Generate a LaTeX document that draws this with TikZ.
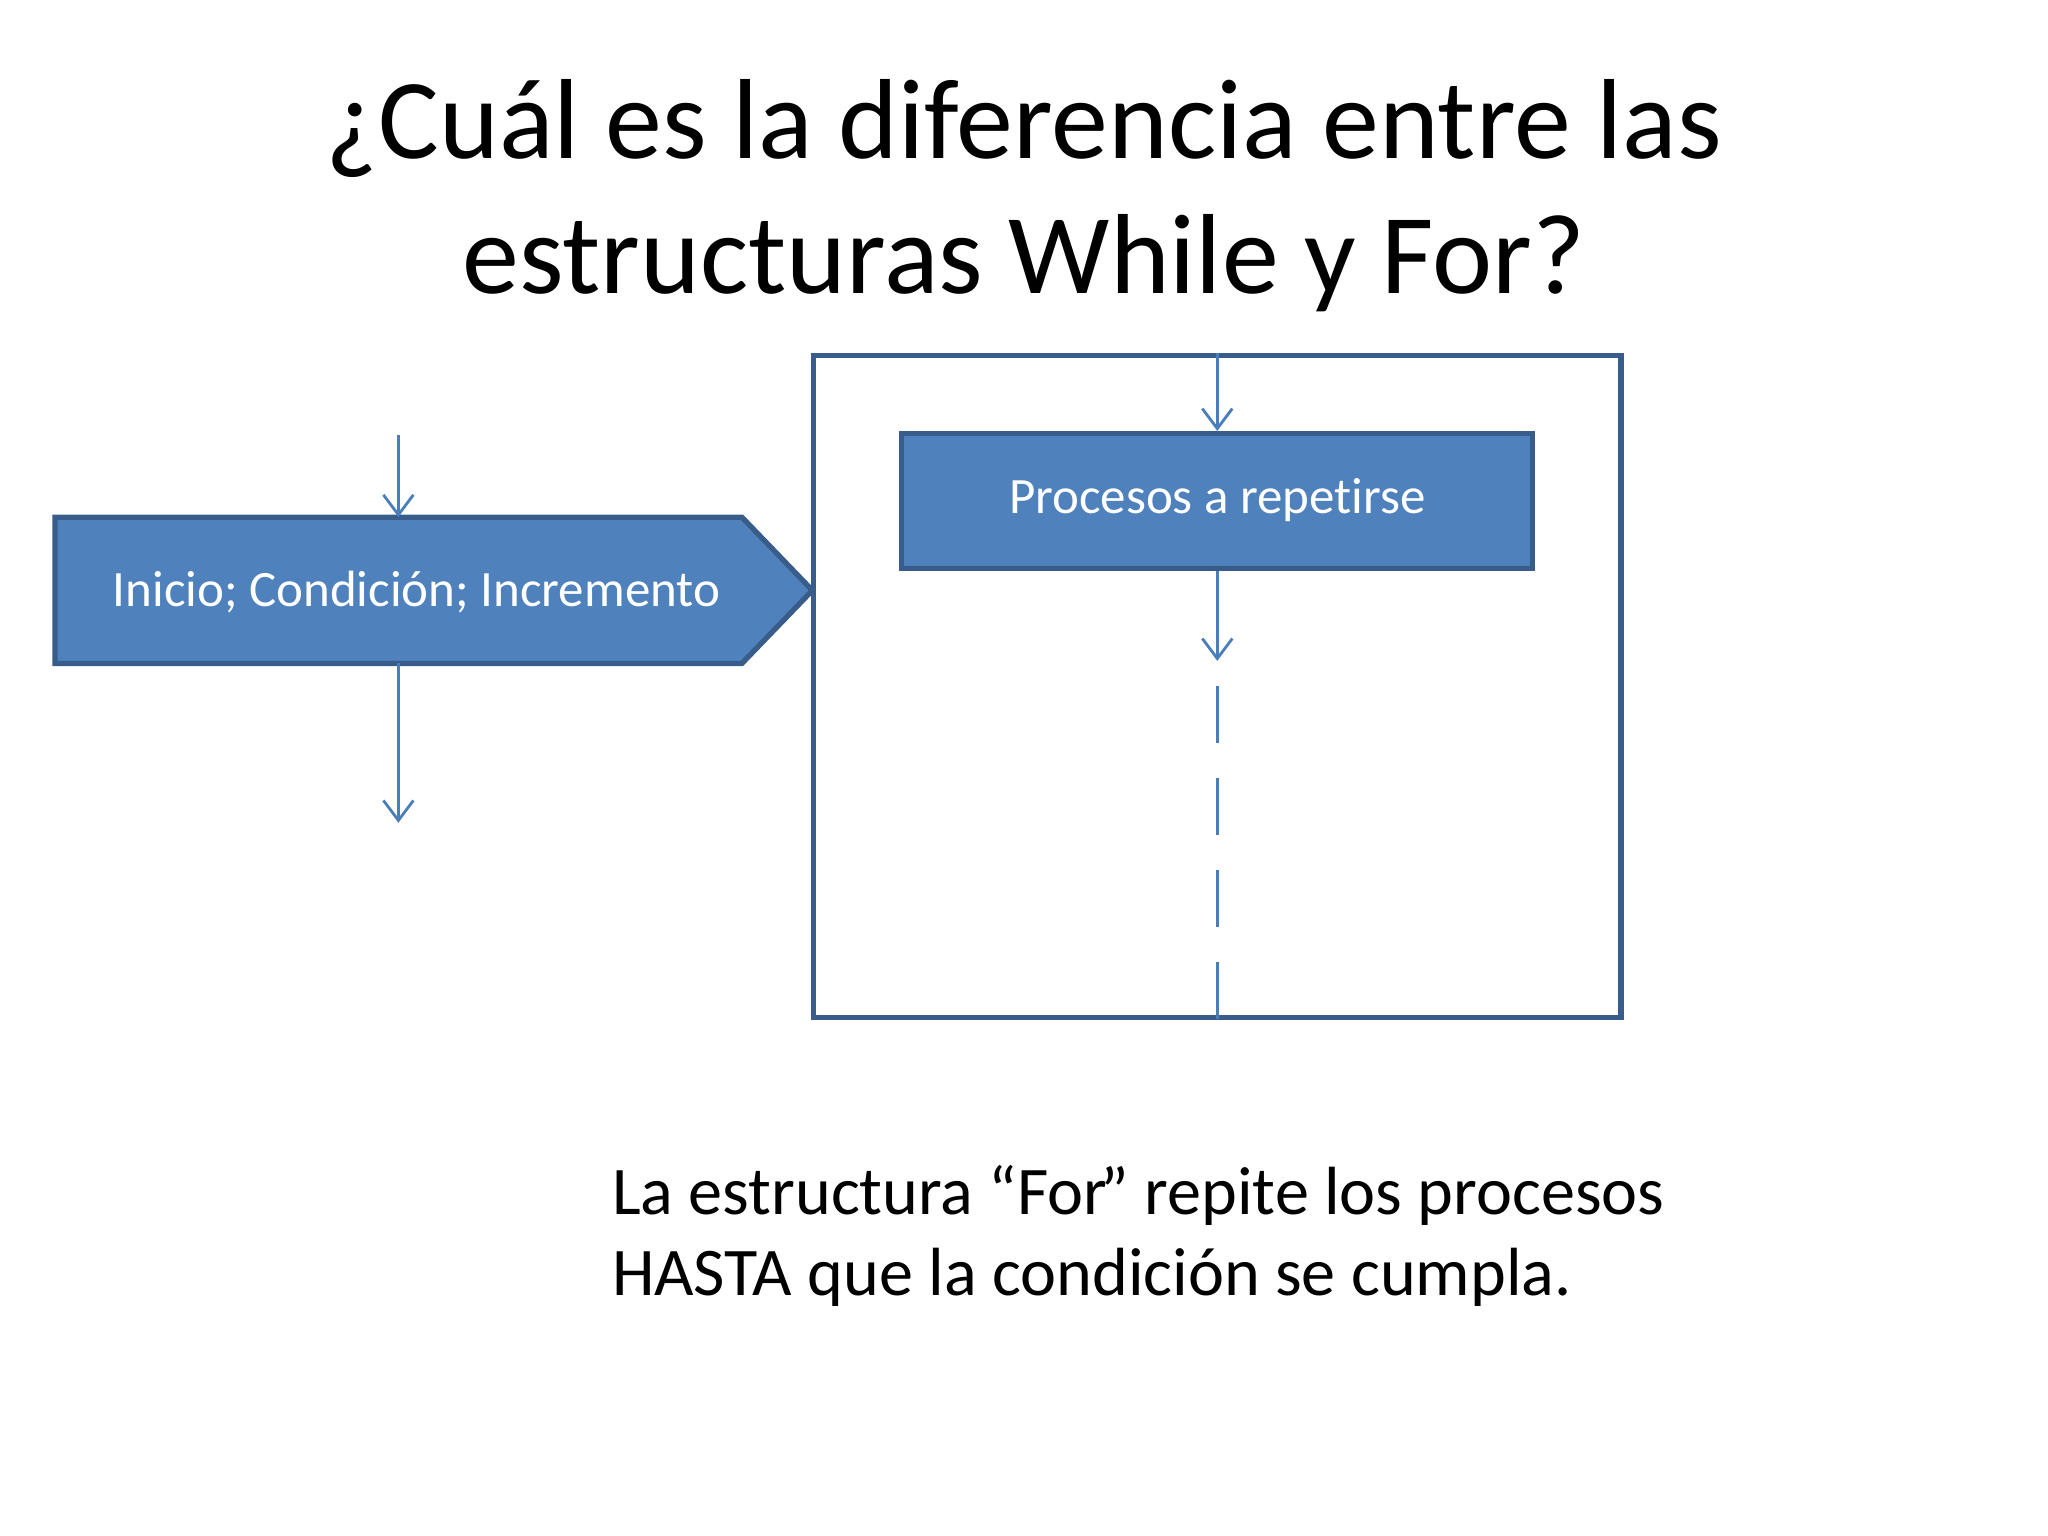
\documentclass[tikz,border=0pt]{standalone}
\usepackage{fontspec}
\setmainfont{Carlito}[Ligatures=NoCommon]
\usepackage{tikz}
\usetikzlibrary{calc,arrows.meta}

\definecolor{azul}{HTML}{4F81BD}
\definecolor{borde}{HTML}{385D8A}
\definecolor{linea}{HTML}{4A7EBB}

\tikzset{
  flecha/.style={draw=linea, line width=0.8pt, -{Straight Barb[length=2mm,width=3mm]}},
  caja/.style={draw=borde, line width=1.5pt, fill=azul},
  textocaja/.style={text=white, font=\fontsize{14.5}{17}\selectfont},
}

\begin{document}
\begin{tikzpicture}
\useasboundingbox (0,0) rectangle (20.48,15.36);

% titulo
\node[anchor=base, font=\fontsize{32.4}{36}\selectfont] (tit1) at (10.24,13.77) {¿Cuál es la diferencia entre las};
\node[anchor=base, font=\fontsize{32.4}{36}\selectfont] (tit2) at (10.24,12.42) {estructuras While y For?};

% pentagono
\coordinate (P1) at (0.549,8.725);
\coordinate (P2) at (0.549,10.188);
\coordinate (P3) at (7.419,10.188);
\coordinate (P4) at (8.124,9.456);
\coordinate (P5) at (7.419,8.725);
\draw[caja, line join=miter] (P1) -- (P2) -- (P3) -- (P4) -- (P5) -- cycle;
\node[textocaja] (cond) at (4.166,9.443) {Inicio; Condición; Incremento};

\coordinate (E1) at (3.984,11.011);
\coordinate (E2) at (3.984,10.188);
\coordinate (S1) at (3.984,8.725);
\coordinate (S2) at (3.984,7.132);
\draw[flecha] (E1) -- (E2);
\draw[flecha] (S1) -- (S2);

% bucle
\node[draw=borde, line width=1.5pt, minimum width=8.072cm, minimum height=6.621cm, inner sep=0pt] (bucle) at (12.173,8.4965) {};
\node[caja, textocaja, minimum width=6.309cm, minimum height=1.346cm, inner sep=0pt, text depth=0.6ex] (proc) at (12.173,10.351) {Procesos a repetirse};

\coordinate (F1) at (12.173,8.751);
\coordinate (D1) at (12.173,8.496);
\draw[flecha] (bucle.north) -- (proc.north);
\draw[flecha] (proc.south) -- (F1);
\draw[draw=linea, line width=0.8pt, dash pattern=on 0.57cm off 0.35cm] (D1) -- (bucle.south);

% texto inferior
\node[anchor=base west, font=\fontsize{19.4}{23}\selectfont, inner sep=0pt] (nota1) at (6.113,3.213) {La estructura “For\kern-0.1em” repite los procesos};
\node[anchor=base west, font=\fontsize{19.4}{23}\selectfont, inner sep=0pt] (nota2) at (6.113,2.404) {HASTA que la condición se cumpla.};

\end{tikzpicture}
\end{document}
